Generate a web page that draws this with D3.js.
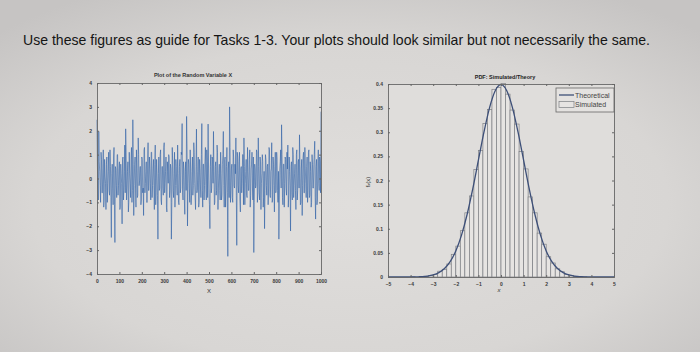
<!DOCTYPE html>
<html>
<head>
<meta charset="utf-8">
<script src="https://cdn.jsdelivr.net/npm/d3@7"></script>
<style>
  body { margin: 0; background: #d6d4d3; }
  svg { display: block; font-family: "Liberation Sans", Arial, sans-serif; }
  .tick text { fill: #3a3a3a; font-weight: bold; }
  .domain, .tick line { stroke: #666; }
</style>
</head>
<body>
<div id="chart"></div>
<script>
// ---- data ----
// left panel: samples of X at index 0,4,8,...,1000
const xSamples = [
  2.46, -0.4, 1.97, 0.3, -1.0, 0.8, -0.6, 1.2, -0.9, 0.1,
  -1.3, 0.9, -0.2, 1.1, -0.7, 0.5, -2.47, 0.6, -1.1, 1.3,
  -2.68, 0.4, -0.8, 1.0, -0.3, 0.7, -1.2, 0.2, -1.9, 0.9,
  -0.5, 1.4, 2.08, -0.9, 0.3, -1.4, 1.1, -0.2, 0.8, -1.0,
  2.46, -1.55, 0.6, -0.4, 1.2, -0.8, 1.7, -0.3, 0.5, -1.1,
  0.9, -0.6, -1.55, 1.3, -0.2, 0.7, -1.0, 1.5, -0.5, 0.4,
  -0.9, 1.1, -0.3, 0.8, -1.3, 1.4, -0.6, 0.2, -2.54, 0.9,
  -0.4, 1.2, -1.1, 0.5, -0.7, 1.5, -0.2, 0.9, -1.4, 0.3,
  1.0, -0.8, 0.6, -2.54, 1.3, -0.5, 0.2, -1.2, 0.8, -0.3,
  1.4, -1.0, 0.5, -0.6, 1.1, 2.3, -0.9, 0.4, -1.5, 0.7,
  2.6, -1.99, 0.8, -0.4, 1.2, -1.1, 0.3, -0.7, 1.5, -0.2,
  -1.3, 2.07, -0.5, 0.9, -1.0, 0.4, -0.8, 2.3, -1.2, 0.6,
  -0.3, 1.3, -0.9, 0.7, 2.28, -0.6, -2.1, 1.0, -0.4, 0.8,
  1.97, -1.1, 0.5, -0.7, 1.4, -1.3, 0.2, -0.5, 1.1, -0.9,
  0.6, 1.97, -1.2, 0.9, -0.4, 1.3, -3.26, 0.7, 3.0, -1.0,
  0.4, -0.8, 1.2, -0.3, 0.6, 1.7, -2.8, 0.9, -0.6, 1.1,
  -1.4, 0.5, -0.2, 1.0, 1.7, -1.1, 0.3, -0.7, 1.3, -0.5,
  0.8, -1.2, 0.4, 1.1, -0.9, -3.1, 0.6, -0.4, 1.2, -1.0,
  1.7, -0.6, 0.9, -1.3, 0.2, 0.7, -0.8, -2.1, 1.0, -0.3,
  0.5, -1.1, 1.3, -0.7, 0.3, 1.5, -0.9, 0.6, -1.4, 1.1,
  -0.5, 0.8, -1.0, -2.54, 0.4, 1.2, 2.25, -0.8, 0.6, -1.2,
  0.9, -0.4, 1.1, 1.4, -0.7, 0.3, -2.2, 0.7, -0.9, 1.0,
  -0.3, 0.6, -1.3, 1.2, -0.5, 0.8, 1.83, -1.1, 0.4, -1.55,
  0.9, -0.6, 1.3, -0.2, 0.5, -1.0, 1.1, -0.8, 0.7, -1.2,
  1.0, -0.4, 0.6, 1.56, -1.7, 0.8, -0.9, 1.2, -0.5, 0.7,
  2.8
];
// samples of X at index 2,6,10,...,998 (the dense inner band)
const midSamples = [
  0.5, -0.9, 0.7, -0.3, 1.1, -0.6, 0.4, -1.2, 0.8, -0.2,
  0.6, -1.0, 0.3, -0.5, 1.2, -0.8, 0.2, -0.4, 0.9, -1.1,
  0.5, -0.3, 1.0, -0.7, 0.4, -1.3, 0.6, -0.2, 0.8, -0.9,
  0.3, -0.6, 1.1, -0.4, 0.7, -1.0, 0.2, -0.8, 1.3, -0.5,
  0.6, -0.3, 0.9, -1.2, 0.4, -0.7, 1.0, -0.1, 0.5, -0.9,
  0.8, -0.4, 1.2, -0.6, 0.3, -1.0, 0.7, -0.5, 0.9, -0.2,
  1.1, -0.8, 0.4, -0.3, 0.6, -1.1, 0.8, -0.7, 0.2, -0.5,
  1.0, -0.9, 0.5, -0.4, 1.3, -0.6, 0.3, -1.2, 0.7, -0.2,
  0.9, -0.5, 0.4, -1.0, 0.6, -0.8, 1.1, -0.3, 0.5, -0.7,
  0.2, -1.1, 0.8, -0.4, 1.0, -0.6, 0.7, -0.9, 0.3, -0.5,
  1.2, -0.2, 0.6, -1.0, 0.4, -0.7, 0.9, -0.3, 1.1, -0.8,
  0.5, -0.6, 0.3, -1.2, 0.8, -0.4, 1.0, -0.5, 0.6, -0.9,
  0.7, -0.3, 1.2, -0.8, 0.4, -1.1, 0.5, -0.6, 0.9, -0.2,
  0.3, -1.0, 0.7, -0.5, 1.1, -0.4, 0.6, -0.9, 0.2, -0.7,
  1.0, -0.3, 0.8, -1.2, 0.5, -0.6, 0.4, -0.8, 1.3, -0.5,
  0.6, -1.0, 0.9, -0.4, 0.2, -0.7, 1.1, -0.3, 0.7, -0.9,
  0.4, -0.6, 1.0, -1.1, 0.5, -0.2, 0.8, -0.8, 0.3, -0.5,
  1.2, -0.7, 0.6, -0.4, 0.9, -1.0, 0.4, -0.3, 1.1, -0.6,
  0.5, -0.9, 0.7, -0.2, 1.0, -1.2, 0.3, -0.5, 0.8, -0.7,
  0.6, -0.4, 1.2, -0.8, 0.4, -1.0, 0.9, -0.3, 0.5, -0.6,
  1.1, -0.5, 0.3, -0.9, 0.7, -0.4, 1.0, -1.1, 0.6, -0.2,
  0.8, -0.7, 0.4, -1.2, 0.9, -0.3, 0.5, -0.6, 1.3, -0.8,
  0.2, -0.5, 1.0, -0.9, 0.7, -0.4, 0.6, -1.0, 0.8, -0.3,
  1.1, -0.6, 0.4, -0.8, 0.9, -0.5, 1.2, -0.7, 0.3, -1.0,
  0.6, -0.4, 1.0, -0.8, 0.5, -1.1, 0.7, -0.2, 0.9, -0.6
];
const leftXTicks = [0, 100, 200, 300, 400, 500, 600, 700, 800, 900, 1000];
const leftYTicks = [-4, -3, -2, -1, 0, 1, 2, 3, 4];

// right panel: histogram (bin width 0.2, -4..4) and theoretical pdf
const binLeft = -4, binWidth = 0.2;
const histHeights = [
  0.0005, 0.0000, 0.0010, 0.0015, 0.0030, 0.0055, 0.0120, 0.0160, 0.0270, 0.0470,
  0.0640, 0.0960, 0.1330, 0.1680, 0.2230, 0.2620, 0.3180, 0.3470, 0.3890, 0.3930,
  0.4010, 0.3790, 0.3460, 0.3170, 0.2600, 0.2240, 0.1660, 0.1330, 0.0910, 0.0680,
  0.0420, 0.0290, 0.0170, 0.0110, 0.0055, 0.0035, 0.0015, 0.0010, 0.0005, 0.0000
];
const pdfX = d3.range(-5, 5.001, 0.25);
const pdfY = [
  0.0000, 0.0000, 0.0000, 0.0000, 0.0001, 0.0004, 0.0009, 0.0020, 0.0044, 0.0091,
  0.0175, 0.0317, 0.0540, 0.0863, 0.1295, 0.1826, 0.2420, 0.3011, 0.3521, 0.3867,
  0.3989,
  0.3867, 0.3521, 0.3011, 0.2420, 0.1826, 0.1295, 0.0863, 0.0540, 0.0317, 0.0175,
  0.0091, 0.0044, 0.0020, 0.0009, 0.0004, 0.0001, 0.0000, 0.0000, 0.0000, 0.0000
];
const rightXTicks = [-5, -4, -3, -2, -1, 0, 1, 2, 3, 4, 5];
const rightYTicks = [0, 0.05, 0.1, 0.15, 0.2, 0.25, 0.3, 0.35, 0.4];
const legendLabels = ["Theoretical", "Simulated"];

// interleave the two sample lists -> index 0,2,4,...,1000
let series = [];
xSamples.forEach((v, i) => {
    series.push({ n: i * 4, v: v });
    if (i < midSamples.length) series.push({ n: i * 4 + 2, v: midSamples[i] });
});

const W = 700, H = 352;
const svg = d3.select('#chart').append('svg')
    .attr('width', W).attr('height', H);

// photo-like background
let defs = svg.append('defs');
let grad = defs.append('radialGradient').attr('id', 'bg')
    .attr('cx', '50%').attr('cy', '58%').attr('r', '70%');
grad.append('stop').attr('offset', '0%').attr('stop-color', '#e0dedc');
grad.append('stop').attr('offset', '65%').attr('stop-color', '#d8d6d4');
grad.append('stop').attr('offset', '100%').attr('stop-color', '#c6c4c3');
svg.append('rect').attr('width', W).attr('height', H).attr('fill', 'url(#bg)');

svg.append('text')
    .attr('x', 23).attr('y', 45)
    .attr('font-size', 15)
    .attr('textLength', 627).attr('lengthAdjust', 'spacingAndGlyphs')
    .attr('fill', '#151515')
    .text('Use these figures as guide for Tasks 1-3. Your plots should look similar but not necessarily the same.');

// ---------- left: time series ----------
let lx = d3.scaleLinear().domain([0, 1000]).range([97, 321]);
let ly = d3.scaleLinear().domain([-4, 4]).range([274, 83]);
let left = svg.append('g');

left.append('rect')
    .attr('x', lx(0)).attr('y', ly(4))
    .attr('width', lx(1000) - lx(0)).attr('height', ly(-4) - ly(4))
    .attr('fill', '#dfdddb');

let line = d3.line().x(d => lx(d.n)).y(d => ly(d.v));
left.append('path').datum(series)
    .attr('d', line)
    .attr('fill', 'none')
    .attr('stroke', '#2c5fa6')
    .attr('stroke-width', 0.7)
    .attr('stroke-opacity', 0.85);

function boxAxes(g, x, y, xt, yt, xfmt, yfmt) {
    g.append('g').attr('transform', `translate(0,${y.range()[0]})`)
        .call(d3.axisBottom(x).tickValues(xt).tickSize(-2).tickPadding(5).tickFormat(xfmt));
    g.append('g').attr('transform', `translate(0,${y.range()[1]})`)
        .call(d3.axisTop(x).tickValues(xt).tickSize(-2).tickFormat(''));
    g.append('g').attr('transform', `translate(${x.range()[0]},0)`)
        .call(d3.axisLeft(y).tickValues(yt).tickSize(-2).tickPadding(5).tickFormat(yfmt));
    g.append('g').attr('transform', `translate(${x.range()[1]},0)`)
        .call(d3.axisRight(y).tickValues(yt).tickSize(-2).tickFormat(''));
    g.selectAll('.tick text').attr('font-size', 5);
    g.selectAll('.domain').attr('stroke-width', 0.9);
}
boxAxes(left, lx, ly, leftXTicks, leftYTicks, d3.format('d'), d3.format('d'));

left.append('text').attr('x', 193).attr('y', 77)
    .attr('text-anchor', 'middle').attr('font-size', 5.5).attr('font-weight', 'bold')
    .attr('fill', '#333').text('Plot of the Random Variable X');
left.append('text').attr('x', 209).attr('y', 293)
    .attr('text-anchor', 'middle').attr('font-size', 6).attr('fill', '#333').text('X');

// ---------- right: histogram + pdf ----------
let rx = d3.scaleLinear().domain([-5, 5]).range([388, 614]);
let ry = d3.scaleLinear().domain([0, 0.4]).range([277, 84]);
let right = svg.append('g');

right.append('rect')
    .attr('x', rx(-5)).attr('y', ry(0.4))
    .attr('width', rx(5) - rx(-5)).attr('height', ry(0) - ry(0.4))
    .attr('fill', '#dfdddb');

right.selectAll('rect.bar').data(histHeights)
    .join('rect')
    .attr('class', 'bar')
    .attr('x', (d, i) => rx(binLeft + i * binWidth))
    .attr('y', d => ry(d))
    .attr('width', rx(binWidth) - rx(0))
    .attr('height', d => ry(0) - ry(d))
    .attr('fill', '#e6e4e2')
    .attr('stroke', '#7d7f84')
    .attr('stroke-width', 0.7);

let pdfLine = d3.line().curve(d3.curveMonotoneX)
    .x((d, i) => rx(pdfX[i])).y(d => ry(d));
right.append('path').datum(pdfY)
    .attr('d', pdfLine)
    .attr('fill', 'none')
    .attr('stroke', '#3d4f78')
    .attr('stroke-width', 1.3);

boxAxes(right, rx, ry, rightXTicks, rightYTicks, d3.format('d'), d => d === 0 ? '0' : d3.format('.2~f')(d));

right.append('text').attr('x', 505).attr('y', 79)
    .attr('text-anchor', 'middle').attr('font-size', 5.5).attr('font-weight', 'bold')
    .attr('fill', '#222').text('PDF: Simulated/Theory');
right.append('text').attr('x', 499).attr('y', 292)
    .attr('text-anchor', 'middle').attr('font-size', 6).attr('font-style', 'italic')
    .attr('fill', '#333').text('x');
right.append('text')
    .attr('transform', 'translate(370,182) rotate(-90)')
    .attr('text-anchor', 'middle').attr('font-size', 6).attr('fill', '#333')
    .text('f\u2093(x)');

// legend
let lg = right.append('g').attr('transform', 'translate(556,88)');
lg.append('rect').attr('width', 58).attr('height', 24)
    .attr('fill', '#e4e2e0').attr('stroke', '#666').attr('stroke-width', 0.8);
lg.append('line').attr('x1', 3).attr('x2', 18).attr('y1', 7).attr('y2', 7)
    .attr('stroke', '#3d4f78').attr('stroke-width', 1.3);
lg.append('rect').attr('x', 3).attr('y', 13.5).attr('width', 15).attr('height', 6)
    .attr('fill', '#e6e4e2').attr('stroke', '#7d7f84').attr('stroke-width', 0.7);
lg.selectAll('text.lab').data(legendLabels)
    .join('text').attr('class', 'lab')
    .attr('x', 19).attr('y', (d, i) => 9.5 + i * 9)
    .attr('font-size', 7).attr('fill', '#444')
    .text(d => d);
</script>
</body>
</html>
